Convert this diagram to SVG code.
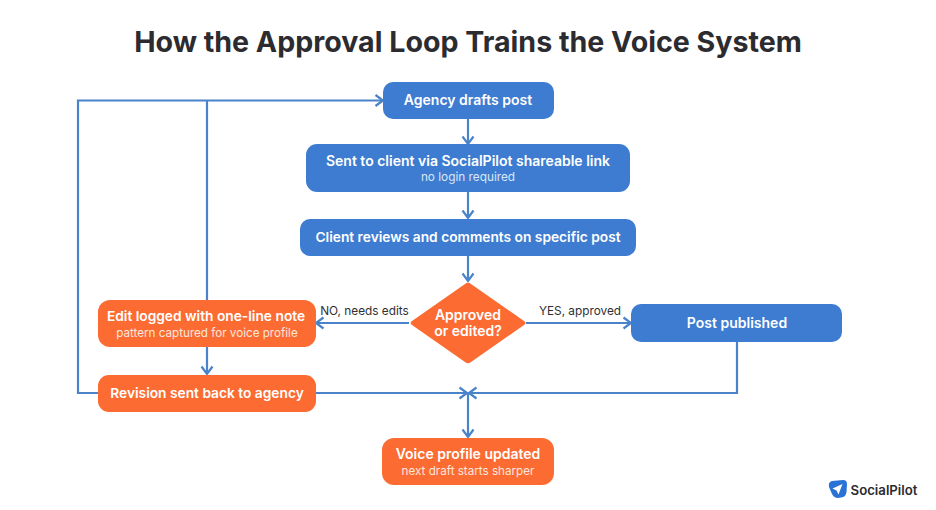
<svg xmlns="http://www.w3.org/2000/svg" width="936" height="510" viewBox="0 0 936 510">
<style>
text{font-family:Inter,"Liberation Sans",sans-serif;text-anchor:middle}
.t{font-size:14px;font-weight:600;fill:#fff}
.n{font-size:13.750px}
.s{font-size:11.650px;font-weight:400;fill:#fbe6dc}
.sb{font-size:11.800px;font-weight:400;fill:#dbe7f7}
.l{font-size:11.800px;font-weight:400;fill:#2f2f33}
.b{fill:#3d7cd0}
.o{fill:#fb6b32}
.c{fill:none;stroke:#4a83c9;stroke-width:2.200}
</style>
<defs>
<marker id="a" markerUnits="userSpaceOnUse" markerWidth="14" markerHeight="16" refX="11" refY="8" orient="auto"><path d="M3.500 2.500L11 8L3.500 13.500" fill="none" stroke="#4a83c9" stroke-width="2.200"/></marker>
</defs>
<rect width="936" height="510" fill="#fff"/>
<text x="468" y="51.500" fill="#2b2b30" style="font-size:28.600px;font-weight:700">How the Approval Loop Trains the Voice System</text>
<g id="connectors">
<path class="c" marker-end="url(#a)" d="M98 393H78V100.500H383"/>
<path class="c" d="M207 300V100.500"/>
<path class="c" marker-end="url(#a)" d="M468 119V144"/>
<path class="c" marker-end="url(#a)" d="M468 192V218"/>
<path class="c" marker-end="url(#a)" d="M468 256V281"/>
<path class="c" marker-end="url(#a)" d="M409 323H316"/>
<path class="c" marker-end="url(#a)" d="M526 323H631"/>
<path class="c" marker-end="url(#a)" d="M207 347V374"/>
<path class="c" marker-end="url(#a)" d="M316 393H467"/>
<path class="c" marker-end="url(#a)" d="M737 342V393H469"/>
<path class="c" marker-end="url(#a)" d="M468 393V437"/>
<text class="l" x="364.500" y="315">NO, needs edits</text>
<text class="l" x="580" y="315">YES, approved</text>
</g>
<g id="agency-drafts"><rect class="b" x="383" y="82" width="171" height="37" rx="10"/><text class="t" x="468" y="105">Agency drafts post</text></g>
<g id="sent-to-client"><rect class="b" x="306" y="144" width="324" height="48" rx="11"/><text class="t" x="468" y="166">Sent to client via SocialPilot shareable link</text><text class="sb" x="468" y="181">no login required</text></g>
<g id="client-reviews"><rect class="b" x="300" y="219" width="336" height="37" rx="10"/><text class="t n" x="468" y="242">Client reviews and comments on specific post</text></g>
<g id="approved-or-edited"><path class="o" d="M465 284Q468 281.500 471 284L524 321Q527 323 524 325L471 362Q468 364.500 465 362L412 325Q409 323 412 321Z"/><text class="t" x="468" y="320">Approved</text><text class="t" x="468" y="336">or edited?</text></g>
<g id="edit-logged"><rect class="o" x="98" y="300" width="218" height="47" rx="12"/><text class="t n" x="206" y="321">Edit logged with one-line note</text><text class="s" x="207" y="337">pattern captured for voice profile</text></g>
<g id="post-published"><rect class="b" x="631" y="304" width="211" height="38" rx="10"/><text class="t" x="737" y="328">Post published</text></g>
<g id="revision-sent"><rect class="o" x="98" y="375" width="218" height="37" rx="11"/><text class="t n" x="207" y="398">Revision sent back to agency</text></g>
<g id="voice-profile"><rect class="o" x="382" y="438" width="172" height="47" rx="12"/><text class="t" x="468" y="459">Voice profile updated</text><text class="s" x="468" y="475">next draft starts sharper</text></g>
<g id="socialpilot-logo"><path fill="#2a72d6" d="M832 481L843 480Q847 480 847 484L846.500 492Q846 497 841 497.500L838 498Q834 498 832 494L829 487Q828 482 832 481Z"/><path fill="#fff" d="M842.500 484L832.500 488.500L836.500 490.500L838.500 494.500Z"/><text x="884" y="494.500" style="font-size:13.200px;font-weight:600;fill:#2b2b30">SocialPilot</text></g>
</svg>
